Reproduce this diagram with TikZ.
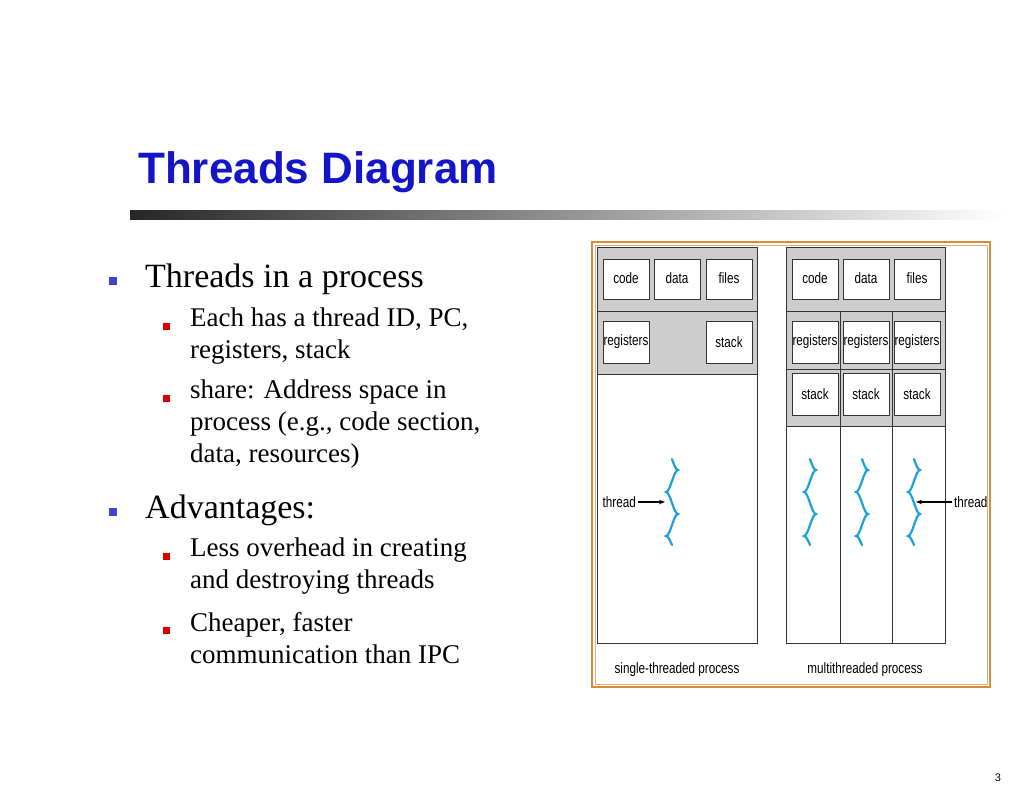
\documentclass[tikz,border=0pt]{standalone}
\usepackage{fontspec}
\setmainfont{Liberation Serif}
\newfontfamily\lsans{Liberation Sans}
\usetikzlibrary{arrows.meta}
\definecolor{titleblue}{RGB}{20,20,200}
\definecolor{boxgray}{RGB}{205,205,205}
\definecolor{framec}{RGB}{215,140,60}
\definecolor{wave}{RGB}{30,160,220}
\tikzset{
  lbl/.style={font=\lsans\fontsize{15}{15}\selectfont, xscale=0.78, inner sep=0pt},
  cell/.style={draw=black!80, line width=0.9pt, fill=white},
  sec/.style={draw=black!80, line width=0.9pt, fill=boxgray},
  wsec/.style={draw=black!80, line width=0.9pt, fill=white},
  bul/.style={anchor=west, font=\fontsize{34}{34}\selectfont, inner sep=0pt},
  sbul/.style={anchor=north west, align=left, font=\fontsize{27}{32}\selectfont, inner sep=0pt},
  bsq/.style={fill=titleblue!80, minimum size=8pt, inner sep=0pt},
  rsq/.style={fill=red!85!black, minimum size=7pt, inner sep=0pt},
  wv/.style={wave, line width=2.2pt, line cap=round},
  arr/.style={-{Stealth[length=6pt]}, line width=1.2pt}
}
\begin{document}
\begin{tikzpicture}[x=1pt,y=-1pt]
\useasboundingbox (0,0) rectangle (1024,796);
\node[anchor=west, font=\lsans\bfseries\fontsize{44}{44}\selectfont, text=titleblue, inner sep=0pt] (title) at (138,172) {Threads Diagram};
\shade[left color=black!85, right color=white] (130,210) rectangle (1005,219);
% bullets
\node[bsq] (b1) at (113,281) {};
\node[bul] (t1) at (145,279) {Threads in a process};
\node[rsq] (s1) at (166,326) {};
\node[sbul] (u1) at (190,308) {Each has a thread ID, PC,\\registers, stack};
\node[rsq] (s2) at (166,398) {};
\node[sbul] (u2) at (190,380) {share: Address space in\\process (e.g., code section,\\data, resources)};
\node[bsq] (b2) at (113,512) {};
\node[bul] (t2) at (145,510) {Advantages:};
\node[rsq] (s3) at (166,556) {};
\node[sbul] (u3) at (190,538) {Less overhead in creating\\and destroying threads};
\node[rsq] (s4) at (166,630) {};
\node[sbul] (u4) at (190,612) {Cheaper, faster\\communication than IPC};
\node[font=\lsans\fontsize{11}{11}\selectfont, inner sep=0pt] (pg) at (998,778) {3};
% frame
\draw[framec, line width=1.2pt, fill=white] (592,242) rectangle (990,687);
\draw[framec!70, line width=0.6pt] (595,245) rectangle (987,684);
% single
\draw[sec] (597,247) rectangle (757,311);
\draw[sec] (597,311) rectangle (757,374);
\draw[wsec] (597,374) rectangle (757,643);
\foreach \n/\x/\t in {c/603/code,d/654/data,f/706/files}
  {\draw[cell] (\x,259) rectangle +(46,40); \node[lbl] (s\n) at (\x+23,278) {\t};}
\draw[cell] (603,321) rectangle (649,363); \node[lbl] (sr) at (626,342) {registers};
\draw[cell] (706,321) rectangle (752,363); \node[lbl] (ss) at (729,342) {stack};
% multi
\draw[sec] (786,247) rectangle (945,311);
\foreach \x/\w in {786/54,840/52,892/53}{
  \draw[sec] (\x,311) rectangle +(\w,58);
  \draw[sec] (\x,369) rectangle +(\w,57);
  \draw[wsec] (\x,426) rectangle (\x+\w,643);}
\foreach \n/\x/\t in {c/792/code,d/843/data,f/894/files}
  {\draw[cell] (\x,259) rectangle +(46,40); \node[lbl] (m\n) at (\x+23,278) {\t};}
\foreach \i/\x in {1/792,2/843,3/894}{
  \draw[cell] (\x,321) rectangle +(46,42); \node[lbl] (mr\i) at (\x+23,342) {registers};
  \draw[cell] (\x,373) rectangle +(46,42); \node[lbl] (ms\i) at (\x+23,394) {stack};}
% waves
\foreach \cx in {674,812,864,916}
  \draw[wv] (\cx-2,459) sin (\cx+4,470) cos (\cx-2,481) sin (\cx-8,492) cos (\cx-2,503)
     sin (\cx+4,514) cos (\cx-2,525) sin (\cx-8,536) cos (\cx-2,545);
\coordinate (w1) at (665,502);
\coordinate (w4) at (916,502);
\node[lbl, anchor=east] (th1) at (636,502) {thread};
\draw[arr] (th1.east) ++(2,0) -- (w1);
\node[lbl, anchor=west] (th2) at (954,502) {thread};
\draw[arr] (th2.west) ++(-2,0) -- (w4);
\node[lbl] (cap1) at (677,670) {single-threaded process};
\node[lbl] (cap2) at (865,670) {multithreaded process};
\end{tikzpicture}
\end{document}
